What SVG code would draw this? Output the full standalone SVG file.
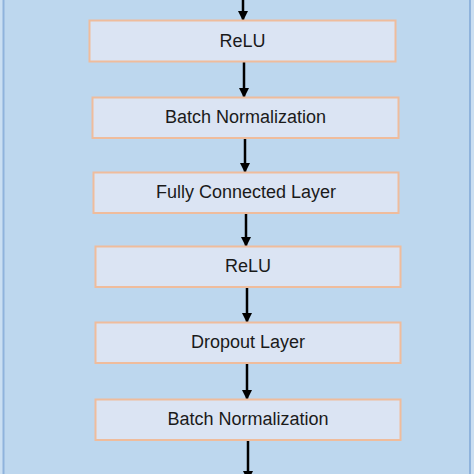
<svg xmlns="http://www.w3.org/2000/svg" width="474" height="474" viewBox="0 0 474 474">
<defs>
<marker id="ah" markerWidth="10" markerHeight="10" refX="9" refY="5" orient="auto" markerUnits="userSpaceOnUse">
<path d="M0,0 L10,5 L0,10 Z" fill="#000"/>
</marker>
<style>
.box{fill:#dbe4f3;stroke:#efbc9c;stroke-width:2}
.lbl{font-family:"Liberation Sans",Arial,sans-serif;font-size:18px;fill:#1a1a1a;text-anchor:middle}
.con{stroke:#000;stroke-width:2.5;fill:none;marker-end:url(#ah)}
</style>
</defs>
<rect x="0" y="0" width="474" height="474" fill="#cadff2"/>
<rect x="3.5" y="-5" width="466.5" height="484" fill="#bdd7ee" stroke="#8fb3dc" stroke-width="2"/>
<g id="connectors">
<line class="con" x1="243" y1="0" x2="243" y2="20"/>
<line class="con" x1="244" y1="62" x2="244" y2="97"/>
<line class="con" x1="245" y1="138" x2="245" y2="172"/>
<line class="con" x1="246" y1="213" x2="246" y2="246"/>
<line class="con" x1="247" y1="287" x2="247" y2="322"/>
<line class="con" x1="247" y1="363" x2="247" y2="399"/>
<line class="con" x1="248" y1="440" x2="248" y2="480"/>
</g>
<g id="n1"><rect class="box" x="89.5" y="20.5" width="306" height="41"/><text class="lbl" x="242.5" y="47">ReLU</text></g>
<g id="n2"><rect class="box" x="92.5" y="97.5" width="306" height="40.5"/><text class="lbl" x="245.5" y="123">Batch Normalization</text></g>
<g id="n3"><rect class="box" x="93.5" y="172.5" width="305" height="40.5"/><text class="lbl" x="246" y="198">Fully Connected Layer</text></g>
<g id="n4"><rect class="box" x="95.5" y="246.5" width="305" height="40.5"/><text class="lbl" x="248" y="272">ReLU</text></g>
<g id="n5"><rect class="box" x="95.5" y="322.5" width="305" height="40.5"/><text class="lbl" x="248" y="348">Dropout Layer</text></g>
<g id="n6"><rect class="box" x="95.5" y="399.5" width="305" height="40.5"/><text class="lbl" x="248" y="425">Batch Normalization</text></g>
</svg>
